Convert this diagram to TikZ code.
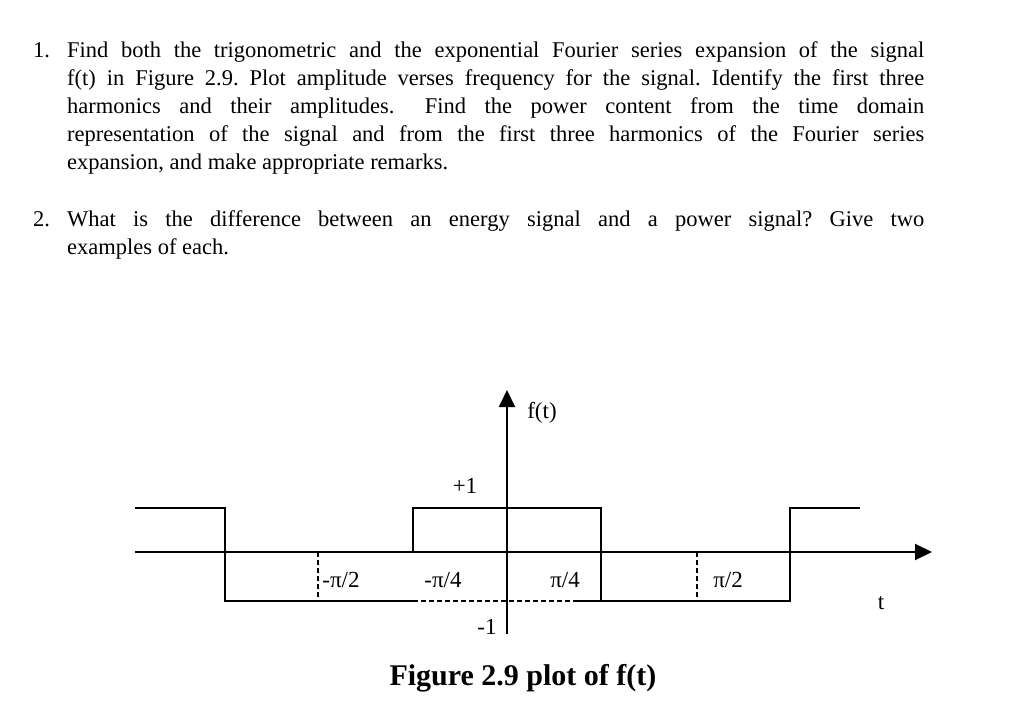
\documentclass[tikz,border=0pt]{standalone}
\usepackage{fontspec}
\setmainfont{Liberation Serif}
\usetikzlibrary{arrows.meta}
\frenchspacing
\begin{document}
\begin{tikzpicture}[x=1pt,y=-1pt,
  txt/.style={anchor=base west,inner sep=0pt,font=\fontsize{22.5}{26}\selectfont},
  lab/.style={inner sep=0pt,font=\fontsize{23}{26}\selectfont},
  sig/.style={line width=2pt},
  dsh/.style={dash pattern=on 5pt off 3pt,line width=1.1pt}]
\useasboundingbox (0,0) rectangle (1024,711);
\node[txt] (n1) at (33,58) {1.};
\node[txt] (l1) at (67,58) {\makebox[857pt][s]{Find both the trigonometric and the exponential Fourier series expansion of the signal}};
\node[txt] (l2) at (67,86) {\makebox[857pt][s]{f(t) in Figure 2.9. Plot amplitude verses frequency for the signal. Identify the first three}};
\node[txt] (l3) at (67,114) {\makebox[857pt][s]{harmonics and their amplitudes.\hspace{12pt} Find the power content from the time domain}};
\node[txt] (l4) at (67,142) {\makebox[857pt][s]{representation of the signal and from the first three harmonics of the Fourier series}};
\node[txt] (l5) at (67,170) {expansion, and make appropriate remarks.};
\node[txt] (n2) at (33,226) {2.};
\node[txt] (m1) at (67,226) {\makebox[857pt][s]{What is the difference between an energy signal and a power signal? Give two}};
\node[txt] (m2) at (67,254) {examples of each.};
% axes
\coordinate (xa) at (135,552); \coordinate (xb) at (932,552);
\coordinate (ya) at (507,634); \coordinate (yb) at (507,390);
\draw[sig,-{Triangle[length=17pt,width=16pt]}] (xa) -- (xb);
\draw[sig,-{Triangle[length=17pt,width=16pt]}] (ya) -- (yb);
% signal
\draw[sig] (135,508) -- (225,508) -- (225,601) -- (413,601);
\draw[sig] (413,552) -- (413,508) -- (601,508) -- (601,601) -- (790,601) -- (790,508) -- (860,508);
\draw[sig] (578,601) -- (601,601);
\draw[dsh] (413,601) -- (578,601);
\draw[dsh] (318,552) -- (318,601);
\draw[dsh] (697,552) -- (697,601);
% labels
\node[lab] (a) at (341,580) {-π/2};
\node[lab] (b) at (443,580) {-π/4};
\node[lab] (c) at (565,580) {π/4};
\node[lab] (d) at (728,580) {π/2};
\node[lab] (p1) at (465,486) {+1};
\node[lab] (m1l) at (487,627) {-1};
\node[lab] (ft) at (542,413) {f(t)};
\node[lab] (tt) at (881,603) {t};
\node[inner sep=0pt,font=\bfseries\fontsize{30}{34}\selectfont] (cap) at (523,678) {Figure 2.9 plot of f(t)};
\end{tikzpicture}
\end{document}
